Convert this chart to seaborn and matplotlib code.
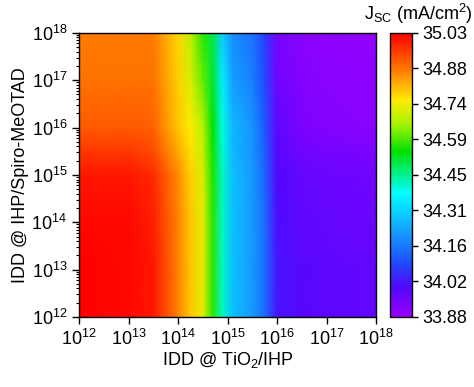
import numpy as np
import matplotlib
matplotlib.use('Agg')
import matplotlib.pyplot as plt
from matplotlib.colors import LinearSegmentedColormap
import seaborn as sns

# IDD grid (log10 of density)
x_log = [12, 13, 13.5, 14, 14.25, 14.5, 14.7, 14.9, 15.1, 15.5, 15.75, 16, 16.5, 17, 18]
y_log = [12, 13, 14, 15, 15.5, 16, 17, 18]

# Jsc (mA/cm2), one row per y_log value
jsc_y12 = [35.03, 35.02, 35.00, 34.87, 34.80, 34.73, 34.58, 34.42, 34.28, 34.22, 34.15, 34.02, 33.99, 33.98, 33.97]
jsc_y13 = [35.03, 35.02, 35.00, 34.87, 34.80, 34.73, 34.58, 34.42, 34.28, 34.22, 34.15, 34.02, 33.99, 33.98, 33.97]
jsc_y14 = [35.02, 35.02, 34.99, 34.87, 34.80, 34.73, 34.58, 34.42, 34.28, 34.22, 34.15, 34.01, 33.98, 33.97, 33.96]
jsc_y15 = [35.00, 35.00, 34.98, 34.86, 34.79, 34.72, 34.57, 34.42, 34.28, 34.22, 34.14, 34.00, 33.97, 33.96, 33.95]
jsc_y155 = [34.96, 34.96, 34.94, 34.83, 34.77, 34.70, 34.56, 34.41, 34.27, 34.21, 34.13, 33.99, 33.95, 33.94, 33.93]
jsc_y16 = [34.92, 34.92, 34.91, 34.80, 34.76, 34.68, 34.55, 34.40, 34.27, 34.21, 34.12, 33.98, 33.93, 33.92, 33.91]
jsc_y17 = [34.89, 34.89, 34.89, 34.79, 34.72, 34.62, 34.52, 34.35, 34.23, 34.18, 34.10, 33.95, 33.92, 33.91, 33.90]
jsc_y18 = [34.88, 34.88, 34.88, 34.78, 34.69, 34.58, 34.50, 34.30, 34.20, 34.16, 34.08, 33.94, 33.91, 33.90, 33.89]

cbar_ticks = np.linspace(33.88, 35.03, 9)
cbar_labels = ['33.88', '34.02', '34.16', '34.31', '34.45', '34.59', '34.74', '34.88', '35.03']

# Style
sns.set_theme(style='ticks')
plt.rcParams['font.family'] = ['Liberation Sans', 'DejaVu Sans']
plt.rcParams['mathtext.fontset'] = 'custom'
plt.rcParams['mathtext.rm'] = 'Liberation Sans'
plt.rcParams['mathtext.it'] = 'Liberation Sans:italic'

# Origin-like rainbow colormap
rainbow = LinearSegmentedColormap.from_list('origin_rainbow', [
    (0.0, (0.60, 0.00, 1.00)),
    (0.104, (0.32, 0.03, 1.00)),
    (0.19, (0.12, 0.30, 1.00)),
    (0.30, (0.08, 0.62, 1.00)),
    (0.435, (0.00, 1.00, 1.00)),
    (0.583, (0.00, 0.88, 0.00)),
    (0.68, (0.65, 0.95, 0.00)),
    (0.765, (1.00, 0.92, 0.00)),
    (0.87, (1.00, 0.48, 0.00)),
    (1.0, (1.00, 0.00, 0.00)),
])

Z = np.array([jsc_y12, jsc_y13, jsc_y14, jsc_y15, jsc_y155, jsc_y16, jsc_y17, jsc_y18])
X, Y = np.meshgrid(10.0 ** np.array(x_log), 10.0 ** np.array(y_log))

fig = plt.figure(figsize=(4.74, 3.87), dpi=100)
ax = fig.add_axes([0.1667, 0.181, 0.6266, 0.734])
cax = fig.add_axes([0.823, 0.181, 0.046, 0.734])

mesh = ax.pcolormesh(X, Y, Z, cmap=rainbow, vmin=33.88, vmax=35.03, shading='gouraud')
ax.set_xscale('log')
ax.set_yscale('log')
ax.set_xlim(1e12, 1e18)
ax.set_ylim(1e12, 1e18)
ax.set_xticks([10.0 ** k for k in range(12, 19)])
ax.set_yticks([10.0 ** k for k in range(12, 19)])
ax.tick_params(which='major', direction='out', length=5, width=1, labelsize=13, color='black', labelcolor='black')
ax.tick_params(which='minor', direction='out', length=2.5, width=0.8, color='black')
for s in ax.spines.values():
    s.set_color('black')
    s.set_linewidth(1)
ax.set_xlabel('IDD @ TiO$_2$/IHP', fontsize=13, color='black', labelpad=1)
ax.set_ylabel('IDD @ IHP/Spiro-MeOTAD', fontsize=13, color='black', labelpad=2)

cb = fig.colorbar(mesh, cax=cax)
cb.set_ticks(cbar_ticks)
cb.set_ticklabels(cbar_labels)
cb.ax.tick_params(direction='out', length=4, width=1, labelsize=13, color='black', labelcolor='black')
cb.outline.set_edgecolor('black')
cb.outline.set_linewidth(1)
fig.text(0.768, 0.948, 'J$_{\\mathrm{SC}}$ (mA/cm$^2$)', fontsize=13, color='black', ha='left', va='baseline')

fig.savefig('out.png', dpi=100)
